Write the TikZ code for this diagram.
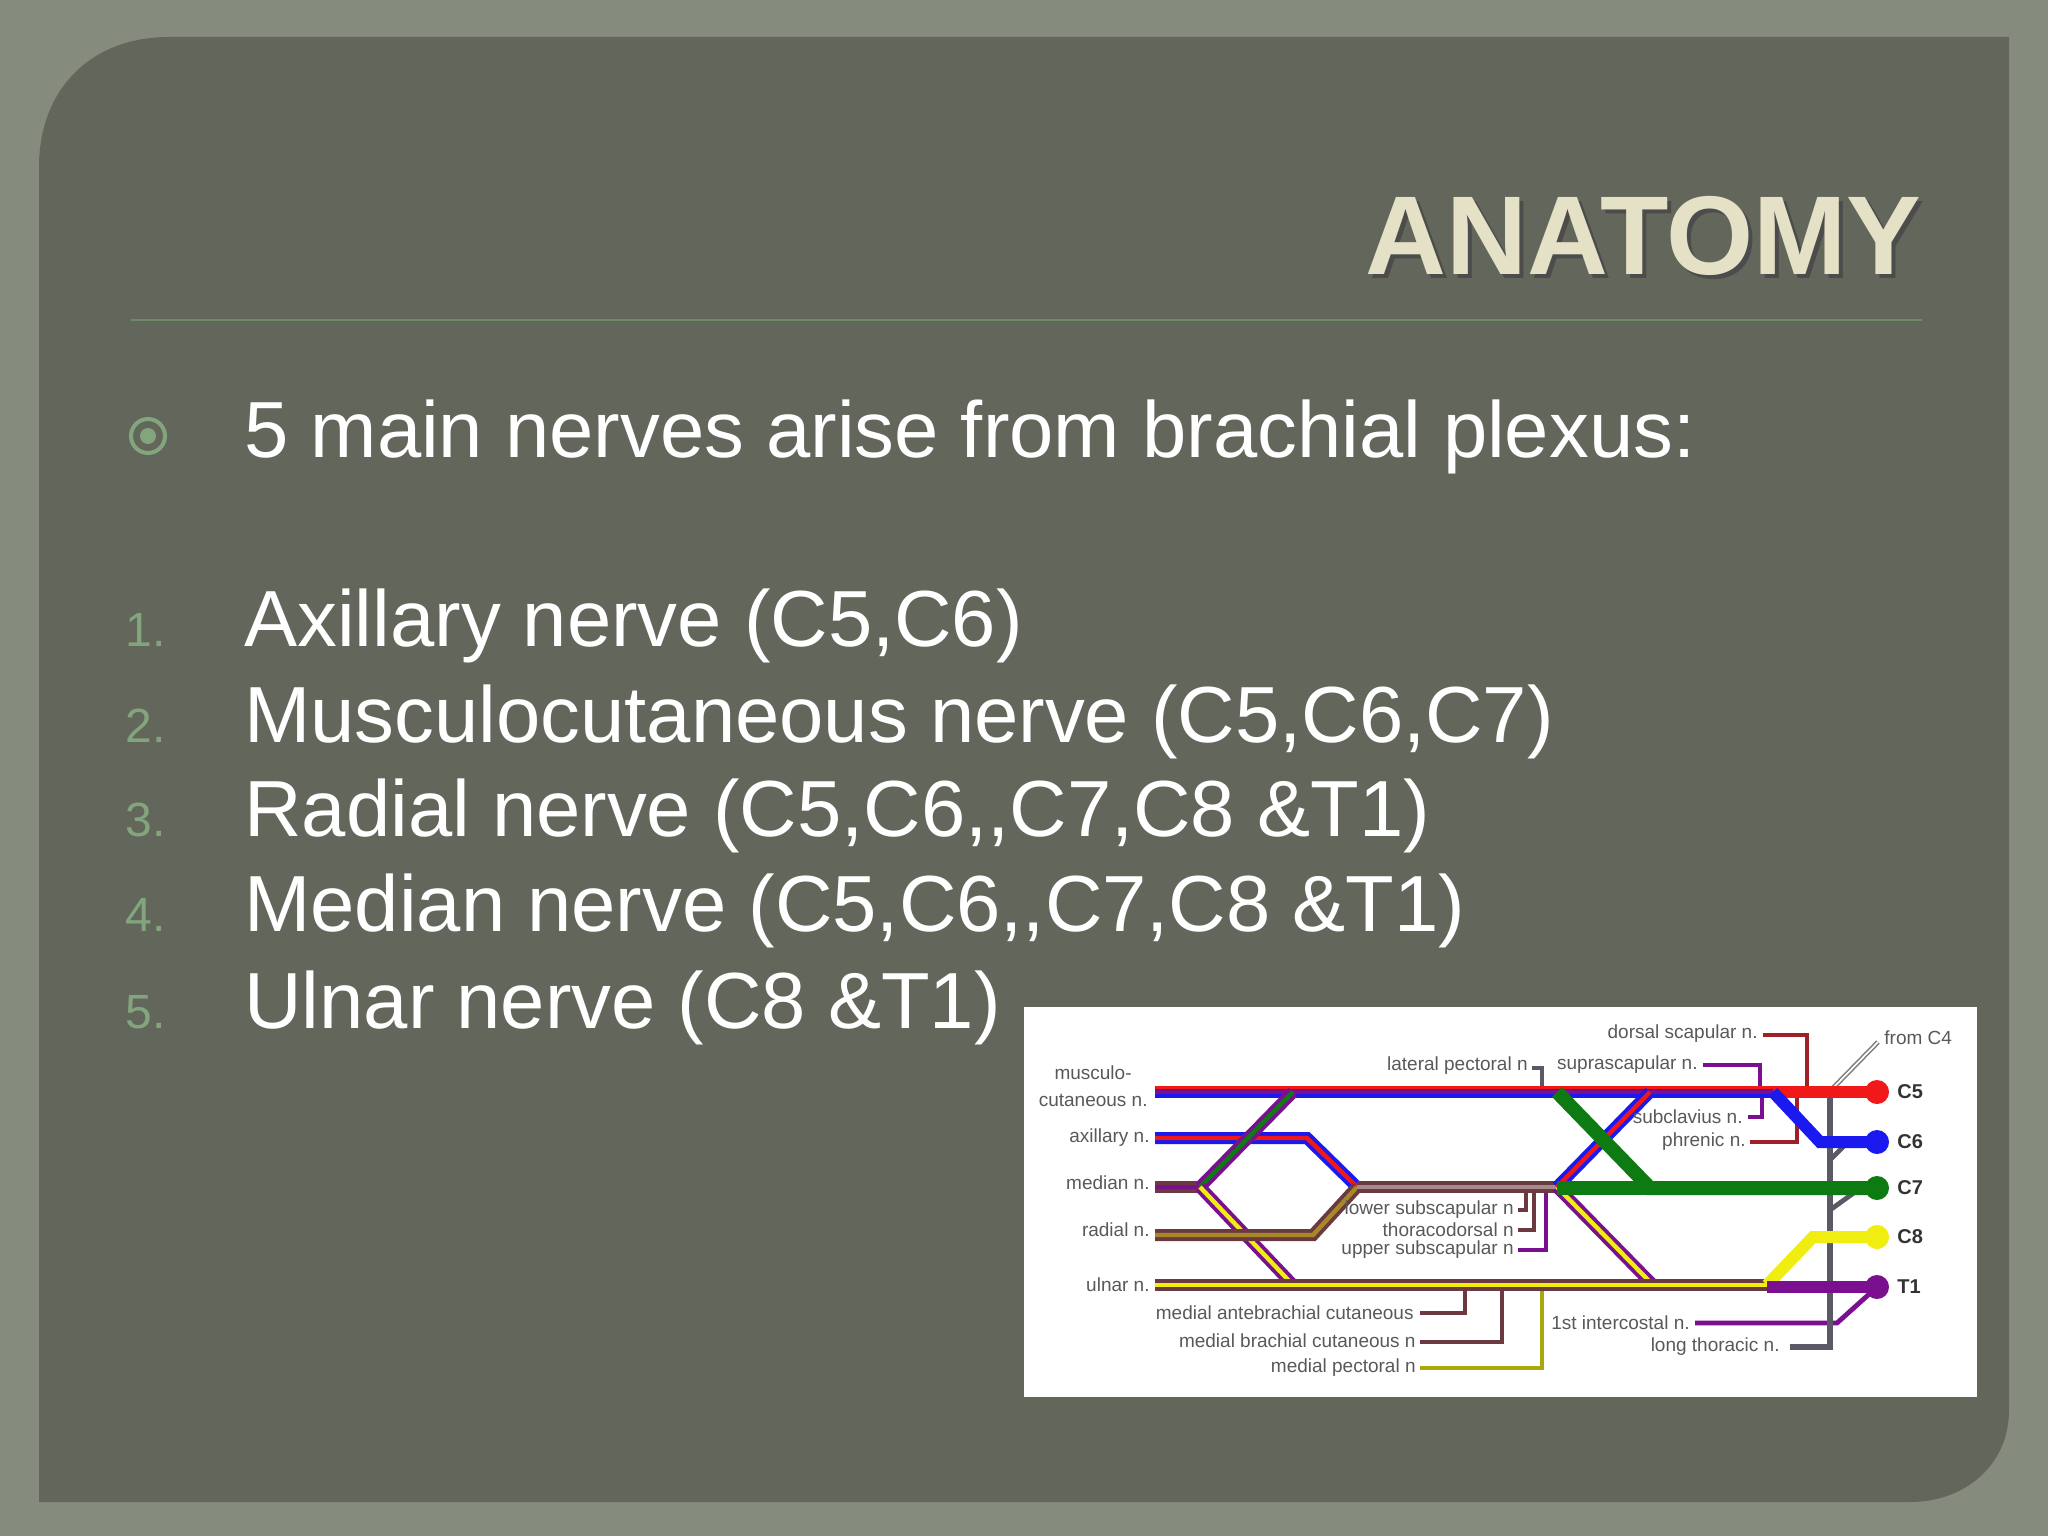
\documentclass[tikz,border=0pt]{standalone}
\usepackage{fontspec}
\setmainfont{Liberation Sans}
\begin{document}
\begin{tikzpicture}[x=0.5pt,y=-0.5pt,
  lbl/.style={font=\fontsize{9.5}{10}\selectfont, text=black!65, inner sep=1pt},
  rootlbl/.style={font=\bfseries\fontsize{10}{10}\selectfont, text=black!80, anchor=west, inner sep=1pt},
  txt/.style={font=\fontsize{39.8}{44}\selectfont, text=white, anchor=base west, inner sep=0pt},
  num/.style={font=\fontsize{24}{26}\selectfont, text=numgreen, anchor=base west, inner sep=0pt},
  bund/.style 2 args={draw=#1, line width=6pt, postaction={draw=#2, line width=2.2pt}},
  br/.style={draw=#1, line width=2.4pt},
  root/.style={circle, fill=#1, minimum size=12pt, inner sep=0pt}]
\definecolor{bgout}{HTML}{868C7D}
\definecolor{panel}{HTML}{63675B}
\definecolor{titlec}{HTML}{E4E1C6}
\definecolor{rulec}{HTML}{6E8C6C}
\definecolor{numgreen}{HTML}{82A57E}
\definecolor{nred}{HTML}{F01818}
\definecolor{nblue}{HTML}{1A1AF0}
\definecolor{ngreen}{HTML}{0E7A12}
\definecolor{nyellow}{HTML}{F0EE10}
\definecolor{npurple}{HTML}{7A1090}
\definecolor{nbrown}{HTML}{6A3A40}
\definecolor{ndred}{HTML}{A0202A}
\definecolor{ngray}{HTML}{5A5A66}
\useasboundingbox (0,0) rectangle (2048,1536);
\fill[bgout] (0,0) rectangle (2048,1536);
\fill[panel] (39,1502) -- (39,167) .. controls (39,90) and (90,37) .. (169,37) -- (2009,37) -- (2009,1410) .. controls (2009,1465) and (1965,1502) .. (1910,1502) -- cycle;
% title
\node[font=\bfseries\fontsize{56}{60}\selectfont, text=black!70, anchor=base east, inner sep=0pt] at (1926,278) {ANATOMY};
\node[font=\bfseries\fontsize{56}{60}\selectfont, text=titlec, anchor=base east, inner sep=0pt] (title) at (1922,274) {ANATOMY};
\draw[rulec, line width=1.2pt] (131,320) -- (1922,320);
% bullet
\node[circle, draw=numgreen, line width=2pt, minimum size=17pt, inner sep=0pt] (bul) at (148,436) {};
\node[circle, fill=numgreen, minimum size=8pt, inner sep=0pt] at (bul) {};
% text
\node[txt] (t0) at (244,457) {5 main nerves arise from brachial plexus:};
\node[num] (n1) at (125,646) {1.}; \node[txt] (t1) at (244,646) {Axillary nerve (C5,C6)};
\node[num] (n2) at (125,742) {2.}; \node[txt] (t2) at (244,742) {Musculocutaneous nerve (C5,C6,C7)};
\node[num] (n3) at (125,836) {3.}; \node[txt] (t3) at (244,836) {Radial nerve (C5,C6,{},C7,C8 \&T1)};
\node[num] (n4) at (125,931) {4.}; \node[txt] (t4) at (244,931) {Median nerve (C5,C6,{},C7,C8 \&T1)};
\node[num] (n5) at (125,1028) {5.}; \node[txt] (t5) at (244,1028) {Ulnar nerve (C8 \&T1)};
% diagram
\fill[white] (1024,1007) rectangle (1977,1397);
% small branches
\draw[br=ndred] (1763,1035) -- (1807,1035) -- (1807,1092);
\draw[br=npurple] (1703,1065) -- (1760,1065) -- (1760,1092);
\draw[br=npurple] (1748,1117) -- (1762,1117) -- (1762,1092);
\draw[br=ndred] (1750,1142) -- (1797,1142) -- (1797,1095);
\draw[br=ngray] (1532,1068) -- (1542,1068) -- (1542,1092);
\draw[br=nbrown] (1518,1210) -- (1526,1210) -- (1526,1188);
\draw[br=nbrown] (1518,1230) -- (1534,1230) -- (1534,1188);
\draw[br=npurple] (1518,1250) -- (1546,1250) -- (1546,1188);
\draw[br=nbrown] (1420,1313) -- (1465,1313) -- (1465,1287);
\draw[br=nbrown] (1420,1342) -- (1502,1342) -- (1502,1287);
\draw[br=nyellow!70!black] (1420,1368) -- (1542,1368) -- (1542,1287);
\draw[br=npurple] (1695,1323) -- (1837,1323) -- (1877,1287);
\draw[br=ngray, line width=2.8pt] (1830,1092) -- (1830,1347) -- (1790,1347);
\draw[br=ngray] (1830,1160) -- (1845,1145);
\draw[br=ngray] (1830,1210) -- (1855,1192);
\draw[gray, line width=2.4pt, postaction={draw=white, line width=0.8pt}] (1833,1088) -- (1878,1042);
% bundles
\draw[bund={nblue}{npurple}] (1155,1092) -- (1773,1092);
\draw[nred, line width=1.5pt] (1155,1087) -- (1773,1087);
\draw[bund={nred}{nred}] (1773,1092) -- (1877,1092);
\draw[bund={nblue}{nblue}] (1773,1092) -- (1820,1142) -- (1877,1142);
\draw[bund={nblue}{nred}] (1155,1138) -- (1307,1138) -- (1357,1187);
\draw[bund={nbrown}{npurple}] (1155,1187) -- (1200,1187);
\draw[bund={npurple}{ngreen}] (1200,1187) -- (1293,1092);
\draw[bund={npurple}{nyellow}] (1200,1187) -- (1293,1285);
\draw[bund={nbrown}{nbrown!60!yellow}] (1155,1235) -- (1313,1235) -- (1357,1187);
\draw[bund={nbrown}{nbrown!60}] (1357,1187) -- (1557,1187);
\draw[bund={nblue}{nred}] (1557,1187) -- (1650,1092);
\draw[bund={npurple}{nyellow}] (1557,1187) -- (1653,1285);
\draw[bund={nbrown}{nyellow}] (1155,1285) -- (1767,1285);
\draw[bund={nyellow}{nyellow}] (1767,1285) -- (1813,1237) -- (1877,1237);
\draw[bund={npurple}{npurple}] (1767,1287) -- (1877,1287);
\draw[ngreen, line width=7pt] (1557,1092) -- (1650,1188) -- (1877,1188);
\draw[ngreen, line width=7pt] (1557,1188) -- (1650,1188);
% roots
\node[root=nred] (c5) at (1877,1092) {}; \node[rootlbl] at (1895,1092) {C5};
\node[root=nblue] (c6) at (1877,1142) {}; \node[rootlbl] at (1895,1142) {C6};
\node[root=ngreen] (c7) at (1877,1188) {}; \node[rootlbl] at (1895,1188) {C7};
\node[root=nyellow] (c8) at (1877,1237) {}; \node[rootlbl] at (1895,1237) {C8};
\node[root=npurple] (t1r) at (1877,1287) {}; \node[rootlbl] at (1895,1287) {T1};
% labels
\node[lbl, anchor=east] at (1134,1073) {musculo-};
\node[lbl, anchor=east] at (1150,1100) {cutaneous n.};
\node[lbl, anchor=east] at (1152,1138) {axillary n.};
\node[lbl, anchor=east] at (1152,1183) {median n.};
\node[lbl, anchor=east] at (1152,1230) {radial n.};
\node[lbl, anchor=east] at (1152,1285) {ulnar n.};
\node[lbl, anchor=east] at (1530,1066) {lateral pectoral n};
\node[lbl, anchor=east] at (1760,1034) {dorsal scapular n.};
\node[lbl, anchor=east] at (1700,1065) {suprascapular n.};
\node[lbl, anchor=east] at (1745,1117) {subclavius n.};
\node[lbl, anchor=east] at (1748,1142) {phrenic n.};
\node[lbl, anchor=west] at (1882,1038) {from C4};
\node[lbl, anchor=east] at (1516,1210) {lower subscapular n};
\node[lbl, anchor=east] at (1516,1230) {thoracodorsal n};
\node[lbl, anchor=east] at (1516,1250) {upper subscapular n};
\node[lbl, anchor=east] at (1416,1313) {medial antebrachial cutaneous};
\node[lbl, anchor=east] at (1418,1341) {medial brachial cutaneous n};
\node[lbl, anchor=east] at (1418,1368) {medial pectoral n};
\node[lbl, anchor=east] at (1692,1323) {1st intercostal n.};
\node[lbl, anchor=east] at (1782,1347) {long thoracic n.};
\end{tikzpicture}
\end{document}
